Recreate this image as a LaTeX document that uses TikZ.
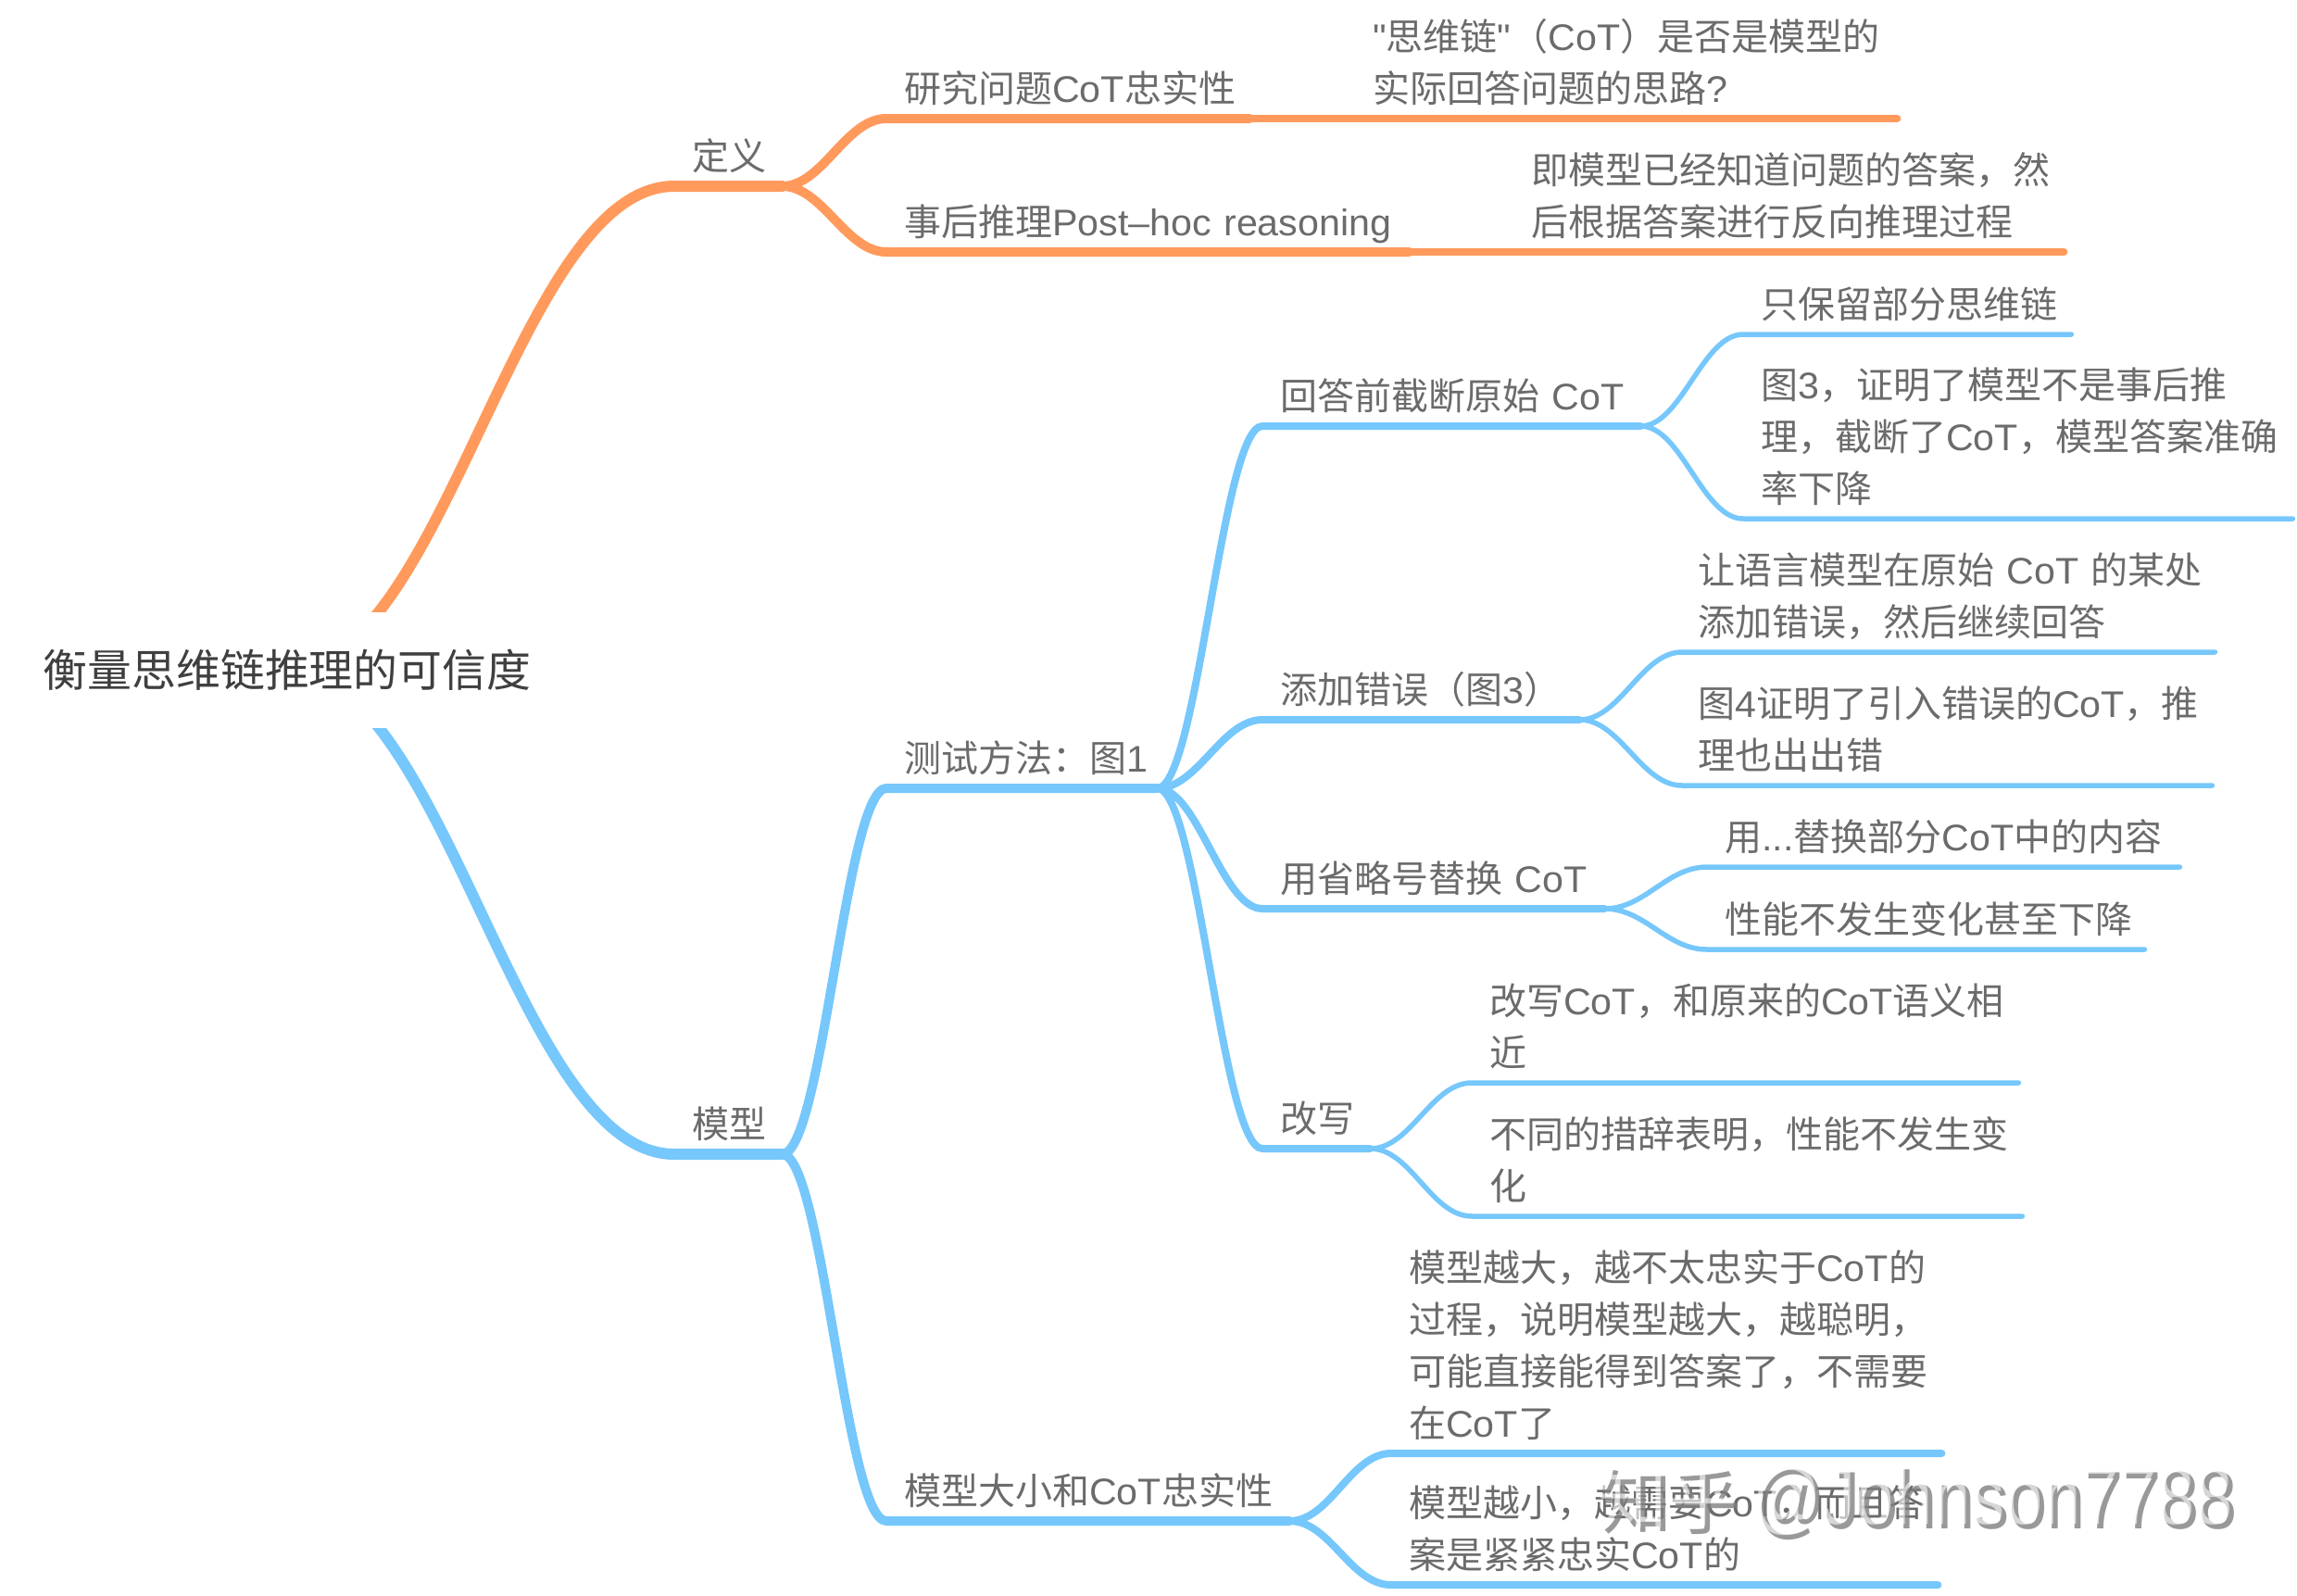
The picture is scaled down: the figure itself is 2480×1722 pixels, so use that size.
\documentclass[tikz,border=0pt]{standalone}
\usepackage{fontspec}
\setmainfont{Noto Sans CJK SC}[Ligatures = TeXOff]
\newfontfamily\latinfont{Liberation Sans}[FakeStretch = 1.03, Ligatures = TeXOff]
\newfontfamily\markfont{Liberation Sans}[FakeStretch = 0.84]
\newcommand{\lat}[1]{\mbox{\latinfont #1}}
\usetikzlibrary{backgrounds}
\definecolor{orangeline}{HTML}{FF9A5C}
\definecolor{blueline}{HTML}{76C7FB}
\definecolor{textgray}{HTML}{6B6B6B}
\definecolor{titlegray}{HTML}{3F3F3F}
\def \outer {170pt}
\def \inner {44pt}
\def \marktext {\fontsize{75}{80}\selectfont 知乎 \markfont\fontsize{88}{80}\selectfont @Johnson7788}
\tikzset{topic/.style = {anchor = south west, inner xsep = 19pt, inner ysep = 1pt, align = left, text = textgray, font = \fontsize{40}{56}\selectfont, execute at end node = \strut}}
\tikzset{link/.style = {out = 0, in = 180, out distance = #1, in distance = #1}}
\tikzset{lineone/.style = {line width = 12pt, line cap = round}}
\tikzset{linetwo/.style = {line width = 10pt, line cap = round}}
\tikzset{linethree/.style = {line width = 8pt, line cap = round}}
\tikzset{linefour/.style = {line width = 5.5pt, line cap = round}}
\begin{document}
\begin{tikzpicture}[x = 1pt, y = -1pt]
\useasboundingbox (0, 0) rectangle (2480, 1722);

\node (root) [fill = white, text = titlegray, minimum width = 620pt, minimum height = 125pt, inner sep = 0pt, font = \fontsize{47.9}{60}\selectfont] at (310, 723) {衡量思维链推理的可信度};

\node (defn) [topic, text width = 78pt] at (728, 201) {定义};
\node (model) [topic, text width = 78pt] at (728, 1246) {模型};

\node (faith) [topic, text width = 354pt] at (957, 128) {研究问题\lat{CoT}忠实性};
\node (faithq) [topic, inner xsep = 133pt, text width = 433pt] at (1349, 128) {\lat{"}思维链\lat{"}（\lat{CoT}）是否是模型的\\实际回答问题的思路\lat{?}};
\node (posthoc) [topic, text width = 526pt] at (957, 272) {事后推理\lat{Post–hoc reasoning}};
\node (posthocq) [topic, inner xsep = 132pt, text width = 443pt] at (1521, 272) {即模型已经知道问题的答案，然\\后根据答案进行反向推理过程};

\node (test) [topic, text width = 254pt] at (957, 851) {测试方法：图\lat{1}};
\node (size) [topic, text width = 397pt] at (957, 1642) {模型大小和\lat{CoT}忠实性};

\node (trunc) [topic, text width = 370pt] at (1363, 460) {回答前截断原始\lat{~CoT}};
\node (err) [topic, text width = 304pt] at (1363, 777) {添加错误（图\lat{3}）};
\node (dots) [topic, text width = 331pt] at (1363, 981) {用省略号替换\lat{~CoT}};
\node (rewrite) [topic, text width = 78pt] at (1363, 1240) {改写};

\node (truncone) [topic, text width = 316pt] at (1882, 361) {只保留部分思维链};
\node (trunctwo) [topic, text width = 555pt] at (1882, 560) {图\lat{3}，证明了模型不是事后推\\理，截断了\lat{CoT}，模型答案准确\\率下降};
\node (errone) [topic, inner xsep = 17pt, text width = 541pt] at (1816, 704) {让语言模型在原始\lat{~CoT~}的某处\\添加错误，然后继续回答};
\node (errtwo) [topic, inner xsep = 17pt, text width = 538pt] at (1816, 848) {图\lat{4}证明了引入错误的\lat{CoT}，推\\理也出出错};
\node (dotsone) [topic, text width = 472pt] at (1843, 936) {用\lat{...}替换部分\lat{CoT}中的内容};
\node (dotstwo) [topic, text width = 434pt] at (1843, 1025) {性能不发生变化甚至下降};
\node (rewriteone) [topic, text width = 552pt] at (1589, 1169) {改写\lat{CoT}，和原来的\lat{CoT}语义相\\近};
\node (rewritetwo) [topic, text width = 556pt] at (1589, 1313) {不同的措辞表明，性能不发生变\\化};
\node (sizeone) [topic, text width = 556pt] at (1502, 1569) {模型越大，越不太忠实于\lat{CoT}的\\过程，说明模型越大，越聪明，\\可能直接能得到答案了，不需要\\在\lat{CoT}了};
\node (sizetwo) [topic, text width = 552pt] at (1502, 1711) {模型越小，越需要\lat{CoT}，而且答\\案是紧紧忠实\lat{CoT}的};

\begin{scope}[on background layer]
\draw[lineone, orangeline] (root.center) to [link = \outer] (defn.south west) -- (defn.south east);
\draw[lineone, blueline] (root.center) to [link = \outer] (model.south west) -- (model.south east);
\end{scope}

\draw[linetwo, orangeline] (defn.south east) to [link = \inner] (faith.south west) -- (faith.south east);
\draw[linethree, orangeline] (faith.south east) -- (faithq.south east);
\draw[linetwo, orangeline] (defn.south east) to [link = \inner] (posthoc.south west) -- (posthoc.south east);
\draw[linethree, orangeline] (posthoc.south east) -- (posthocq.south east);

\draw[linetwo, blueline] (model.south east) to [link = \inner] (test.south west) -- (test.south east);
\draw[linetwo, blueline] (model.south east) to [link = \inner] (size.south west) -- (size.south east);

\draw[linethree, blueline] (test.south east) to [link = \inner] (trunc.south west) -- (trunc.south east);
\draw[linethree, blueline] (test.south east) to [link = \inner] (err.south west) -- (err.south east);
\draw[linethree, blueline] (test.south east) to [link = \inner] (dots.south west) -- (dots.south east);
\draw[linethree, blueline] (test.south east) to [link = \inner] (rewrite.south west) -- (rewrite.south east);

\draw[linefour, blueline] (trunc.south east) to [link = \inner] (truncone.south west) -- (truncone.south east);
\draw[linefour, blueline] (trunc.south east) to [link = \inner] (trunctwo.south west) -- (trunctwo.south east);
\draw[linefour, blueline] (err.south east) to [link = \inner] (errone.south west) -- (errone.south east);
\draw[linefour, blueline] (err.south east) to [link = \inner] (errtwo.south west) -- (errtwo.south east);
\draw[linefour, blueline] (dots.south east) to [link = \inner] (dotsone.south west) -- (dotsone.south east);
\draw[linefour, blueline] (dots.south east) to [link = \inner] (dotstwo.south west) -- (dotstwo.south east);
\draw[linefour, blueline] (rewrite.south east) to [link = \inner] (rewriteone.south west) -- (rewriteone.south east);
\draw[linefour, blueline] (rewrite.south east) to [link = \inner] (rewritetwo.south west) -- (rewritetwo.south east);
\draw[linethree, blueline] (size.south east) to [link = \inner] (sizeone.south west) -- (sizeone.south east);
\draw[linethree, blueline] (size.south east) to [link = \inner] (sizetwo.south west) -- (sizetwo.south east);

\node (markshade) [text = gray, opacity = 0.8, inner sep = 0pt] at (2073, 1625) {\marktext};
\node (mark) [text = white, opacity = 0.6, inner sep = 0pt] at (2068, 1620) {\marktext};

\end{tikzpicture}
\end{document}
